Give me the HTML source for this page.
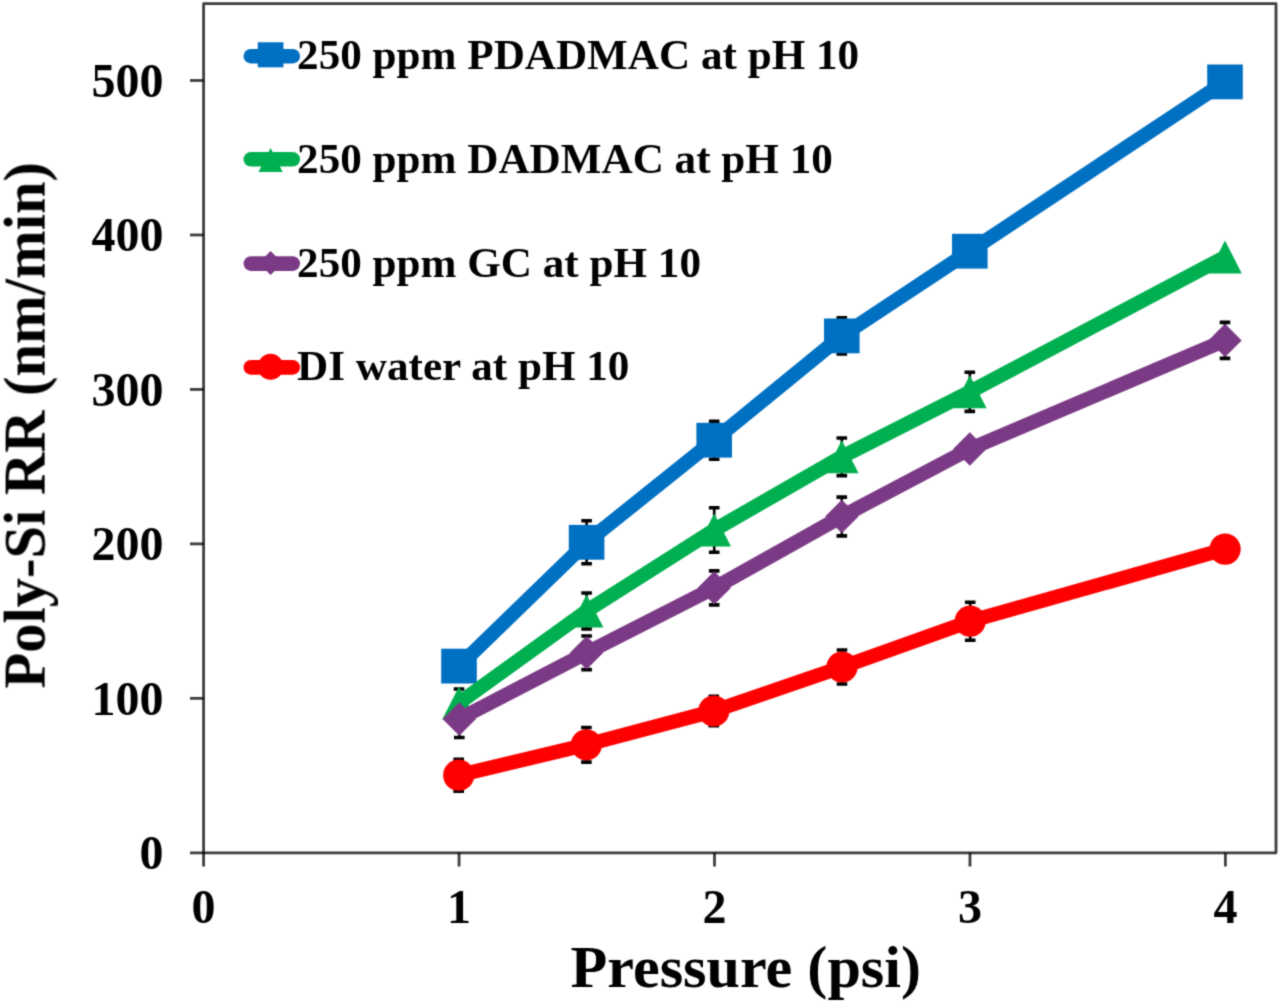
<!DOCTYPE html>
<html lang="en"><head><meta charset="utf-8"><title>Poly-Si RR vs Pressure</title>
<style>
html,body{margin:0;padding:0;background:#fff;}
body{width:1280px;height:1004px;overflow:hidden;}
svg{display:block;}
text{font-family:"Liberation Serif","DejaVu Serif",serif;font-weight:bold;fill:#000;}
.tick{font-size:48px;}
.leg{font-size:43.15px;}
.ttl{font-size:60.2px;}
.ttly{font-size:58.5px;}
</style></head><body>
<svg width="1280" height="1004" viewBox="0 0 1280 1004">
<defs><filter id="soft" x="0" y="0" width="1280" height="1004" filterUnits="userSpaceOnUse" color-interpolation-filters="sRGB"><feConvolveMatrix order="3" kernelMatrix="0.035 0.105 0.035 0.105 0.440 0.105 0.035 0.105 0.035" edgeMode="duplicate" preserveAlpha="false"/></filter></defs>
<rect width="1280" height="1004" fill="#fff"/>
<g filter="url(#soft)">

<g stroke="#000" stroke-opacity="0.76" stroke-width="2.8" fill="none" stroke-linejoin="round">
<path d="M203.6 866.5 V3.7 H1276.0 V852.8 H1268"/>
<path d="M190 852.8 H1268"/>
<path d="M190 698.34 H203.6"/>
<path d="M190 543.88 H203.6"/>
<path d="M190 389.42 H203.6"/>
<path d="M190 234.96 H203.6"/>
<path d="M190 80.5 H203.6"/>
<path d="M459.05 852.8 V866.5"/>
<path d="M714.5 852.8 V866.5"/>
<path d="M969.95 852.8 V866.5"/>
<path d="M1225.4 852.8 V866.5"/>
</g>
<text class="tick" x="163.6" y="869" text-anchor="end">0</text>
<text class="tick" x="163.6" y="714.54" text-anchor="end">100</text>
<text class="tick" x="163.6" y="560.08" text-anchor="end">200</text>
<text class="tick" x="163.6" y="405.62" text-anchor="end">300</text>
<text class="tick" x="163.6" y="251.16" text-anchor="end">400</text>
<text class="tick" x="163.6" y="96.7" text-anchor="end">500</text>
<text class="tick" x="203.6" y="923" text-anchor="middle">0</text>
<text class="tick" x="459.05" y="923" text-anchor="middle">1</text>
<text class="tick" x="714.5" y="923" text-anchor="middle">2</text>
<text class="tick" x="969.95" y="923" text-anchor="middle">3</text>
<text class="tick" x="1225.4" y="923" text-anchor="middle">4</text>
<text class="ttl" x="745.8" y="986.8" text-anchor="middle">Pressure (psi)</text>
<text class="ttly" transform="translate(44.6,425.3) rotate(-90)" text-anchor="middle">Poly-Si RR (nm/min)</text>
<g stroke="#000" fill="none">
<path stroke-width="2.6" d="M586.6 520.8 V563.8"/><path stroke-width="3.6" d="M581.3 520.8 h10.6 M581.3 563.8 h10.6"/>
<path stroke-width="2.6" d="M714.2 421.2 V459.2"/><path stroke-width="3.6" d="M708.9 421.2 h10.6 M708.9 459.2 h10.6"/>
<path stroke-width="2.6" d="M841.8 317.9 V353.9"/><path stroke-width="3.6" d="M836.5 317.9 h10.6 M836.5 353.9 h10.6"/>
<path stroke-width="2.6" d="M459 689 V717"/><path stroke-width="3.6" d="M453.7 689 h10.6 M453.7 717 h10.6"/>
<path stroke-width="2.6" d="M586.6 593 V629"/><path stroke-width="3.6" d="M581.3 593 h10.6 M581.3 629 h10.6"/>
<path stroke-width="2.6" d="M714.2 507.8 V552.2"/><path stroke-width="3.6" d="M708.9 507.8 h10.6 M708.9 552.2 h10.6"/>
<path stroke-width="2.6" d="M841.8 438 V475.6"/><path stroke-width="3.6" d="M836.5 438 h10.6 M836.5 475.6 h10.6"/>
<path stroke-width="2.6" d="M969.8 372.2 V411.4"/><path stroke-width="3.6" d="M964.5 372.2 h10.6 M964.5 411.4 h10.6"/>
<path stroke-width="2.6" d="M459.3 700.5 V737.5"/><path stroke-width="3.6" d="M454 700.5 h10.6 M454 737.5 h10.6"/>
<path stroke-width="2.6" d="M586.6 636 V669.6"/><path stroke-width="3.6" d="M581.3 636 h10.6 M581.3 669.6 h10.6"/>
<path stroke-width="2.6" d="M714.2 570.9 V604.9"/><path stroke-width="3.6" d="M708.9 570.9 h10.6 M708.9 604.9 h10.6"/>
<path stroke-width="2.6" d="M841.8 497.1 V535.9"/><path stroke-width="3.6" d="M836.5 497.1 h10.6 M836.5 535.9 h10.6"/>
<path stroke-width="2.6" d="M1225 322.4 V358.4"/><path stroke-width="3.6" d="M1219.7 322.4 h10.6 M1219.7 358.4 h10.6"/>
<path stroke-width="2.6" d="M458.7 759.2 V791.2"/><path stroke-width="3.6" d="M453.4 759.2 h10.6 M453.4 791.2 h10.6"/>
<path stroke-width="2.6" d="M586.4 727.5 V762.1"/><path stroke-width="3.6" d="M581.1 727.5 h10.6 M581.1 762.1 h10.6"/>
<path stroke-width="2.6" d="M713.8 696.2 V725.8"/><path stroke-width="3.6" d="M708.5 696.2 h10.6 M708.5 725.8 h10.6"/>
<path stroke-width="2.6" d="M842 650 V684"/><path stroke-width="3.6" d="M836.7 650 h10.6 M836.7 684 h10.6"/>
<path stroke-width="2.6" d="M970.2 602.2 V640.2"/><path stroke-width="3.6" d="M964.9 602.2 h10.6 M964.9 640.2 h10.6"/>
</g>
<polyline points="459,666.1 586.6,542.3 714.2,440.2 841.8,335.9 969.8,251.2 1225,81.9" fill="none" stroke="#0070C2" stroke-width="14.3" stroke-linejoin="round" stroke-linecap="butt"/>
<rect x="441.2" y="648.7" width="35.6" height="34.8" fill="#0070C2"/>
<rect x="568.8" y="524.9" width="35.6" height="34.8" fill="#0070C2"/>
<rect x="696.4" y="422.8" width="35.6" height="34.8" fill="#0070C2"/>
<rect x="824" y="318.5" width="35.6" height="34.8" fill="#0070C2"/>
<rect x="952" y="233.8" width="35.6" height="34.8" fill="#0070C2"/>
<rect x="1207.2" y="64.5" width="35.6" height="34.8" fill="#0070C2"/>
<polyline points="459,703 586.6,611 714.2,530 841.8,456.8 969.8,391.8 1225,257" fill="none" stroke="#00B050" stroke-width="14.3" stroke-linejoin="round" stroke-linecap="butt"/>
<polygon points="459,686.5 475.8,719.5 442.2,719.5" fill="#00B050"/>
<polygon points="586.6,594.5 603.4,627.5 569.8,627.5" fill="#00B050"/>
<polygon points="714.2,513.5 731,546.5 697.4,546.5" fill="#00B050"/>
<polygon points="841.8,440.3 858.6,473.3 825,473.3" fill="#00B050"/>
<polygon points="969.8,375.3 986.6,408.3 953,408.3" fill="#00B050"/>
<polygon points="1225,240.5 1241.8,273.5 1208.2,273.5" fill="#00B050"/>
<polyline points="459.3,719 586.6,652.8 714.2,587.9 841.8,516.5 969.8,449 1225,340.4" fill="none" stroke="#7B3A85" stroke-width="14.3" stroke-linejoin="round" stroke-linecap="butt"/>
<polygon points="459.3,702.3 476,719 459.3,735.7 442.6,719" fill="#7B3A85"/>
<polygon points="586.6,636.1 603.3,652.8 586.6,669.5 569.9,652.8" fill="#7B3A85"/>
<polygon points="714.2,571.2 730.9,587.9 714.2,604.6 697.5,587.9" fill="#7B3A85"/>
<polygon points="841.8,499.8 858.5,516.5 841.8,533.2 825.1,516.5" fill="#7B3A85"/>
<polygon points="969.8,432.3 986.5,449 969.8,465.7 953.1,449" fill="#7B3A85"/>
<polygon points="1225,323.7 1241.7,340.4 1225,357.1 1208.3,340.4" fill="#7B3A85"/>
<polyline points="458.7,775.2 586.4,744.8 713.8,711 842,667 970.2,621.2 1225.1,549.1" fill="none" stroke="#FF0000" stroke-width="14.3" stroke-linejoin="round" stroke-linecap="butt"/>
<circle cx="458.7" cy="775.2" r="15.6" fill="#FF0000"/>
<circle cx="586.4" cy="744.8" r="15.6" fill="#FF0000"/>
<circle cx="713.8" cy="711" r="15.6" fill="#FF0000"/>
<circle cx="842" cy="667" r="15.6" fill="#FF0000"/>
<circle cx="970.2" cy="621.2" r="15.6" fill="#FF0000"/>
<circle cx="1225.1" cy="549.1" r="15.6" fill="#FF0000"/>
<line x1="250.8" y1="56.2" x2="292.8" y2="56.2" stroke="#0070C2" stroke-width="14.6" stroke-linecap="round"/>
<rect x="257.78" y="42.27" width="25.63" height="25.06" fill="#0070C2"/>
<text class="leg" x="297.1" y="69.2">250 ppm PDADMAC at pH 10</text>
<line x1="250.8" y1="159.3" x2="292.8" y2="159.3" stroke="#00B050" stroke-width="14.6" stroke-linecap="round"/>
<polygon points="270.6,148.12 282.7,171.88 258.5,171.88" fill="#00B050"/>
<text class="leg" x="297.1" y="172.9">250 ppm DADMAC at pH 10</text>
<line x1="250.8" y1="263.6" x2="292.8" y2="263.6" stroke="#7B3A85" stroke-width="14.6" stroke-linecap="round"/>
<polygon points="270.6,250.98 282.62,263 270.6,275.02 258.58,263" fill="#7B3A85"/>
<text class="leg" x="297.1" y="276.7">250 ppm GC at pH 10</text>
<line x1="250.8" y1="367.4" x2="292.8" y2="367.4" stroke="#FF0000" stroke-width="14.6" stroke-linecap="round"/>
<circle cx="270.6" cy="366.8" r="12.95" fill="#FF0000"/>
<text class="leg" x="297.1" y="380.3">DI water at pH 10</text>
</g></svg></body></html>
